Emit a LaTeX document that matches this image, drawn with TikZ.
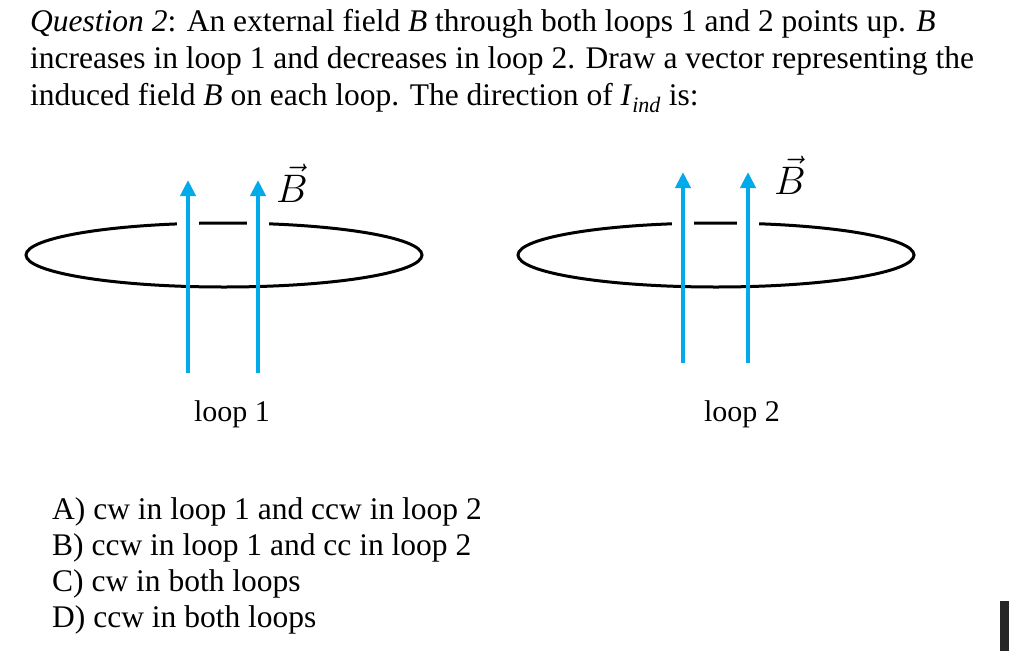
\documentclass[tikz,border=0pt]{standalone}
\usepackage{fontspec}
\setmainfont{Liberation Serif}
\usetikzlibrary{arrows.meta}
\definecolor{bfield}{RGB}{0,170,235}
\begin{document}
\begin{tikzpicture}[x=1pt,y=-1pt,
  loop/.style={draw=black,line width=3pt},
  gapcut/.style={draw=white,line width=22pt},
  field/.style={draw=bfield,line width=4pt,-{Triangle[length=16pt,width=15pt]}},
  txt/.style={font=\fontsize{31.5}{37}\selectfont,anchor=west,inner sep=0pt},
  lbl/.style={font=\fontsize{30}{32}\selectfont,inner sep=0pt}]
\useasboundingbox (0,0) rectangle (1009,651);
\node[txt,anchor=north west,align=left] (q) at (30,9) {\textit{Question 2}: An external field \textit{B} through both loops 1 and 2 points up. \textit{B}\\increases in loop 1 and decreases in loop 2. Draw a vector representing the\\induced field \textit{B} on each loop. The direction of \textit{I}\textsubscript{\textit{ind}} is:};
% loop 1
\draw[loop] (224,255) ellipse [x radius=198, y radius=32];
\draw[gapcut] (188,216) -- (188,226);
\draw[gapcut] (258,216) -- (258,226);
\coordinate (a1s) at (188,373); \coordinate (a1e) at (188,180);
\coordinate (a2s) at (258,373); \coordinate (a2e) at (258,180);
\draw[field] (a1s) -- (a1e);
\draw[field] (a2s) -- (a2e);
\node[lbl] (b1) at (292,183) {\scalebox{1.6}{$\vec{B}$}};
\node[lbl] (l1) at (232,414) {loop 1};
% loop 2
\draw[loop] (716,255) ellipse [x radius=198, y radius=32];
\draw[gapcut] (683,216) -- (683,226);
\draw[gapcut] (748,216) -- (748,226);
\coordinate (c1s) at (683,363); \coordinate (c1e) at (683,172);
\coordinate (c2s) at (748,363); \coordinate (c2e) at (748,172);
\draw[field] (c1s) -- (c1e);
\draw[field] (c2s) -- (c2e);
\node[lbl] (b2) at (790,175) {\scalebox{1.6}{$\vec{B}$}};
\node[lbl] (l2) at (742,414) {loop 2};
% answers
\node[txt,anchor=north west,align=left,font=\fontsize{31.5}{36}\selectfont] (ans) at (52,497) {A) cw in loop 1 and ccw in loop 2\\B) ccw in loop 1 and cc in loop 2\\C) cw in both loops\\D) ccw in both loops};
\fill[black!85] (1000,601) rectangle (1009,651);
\end{tikzpicture}
\end{document}
